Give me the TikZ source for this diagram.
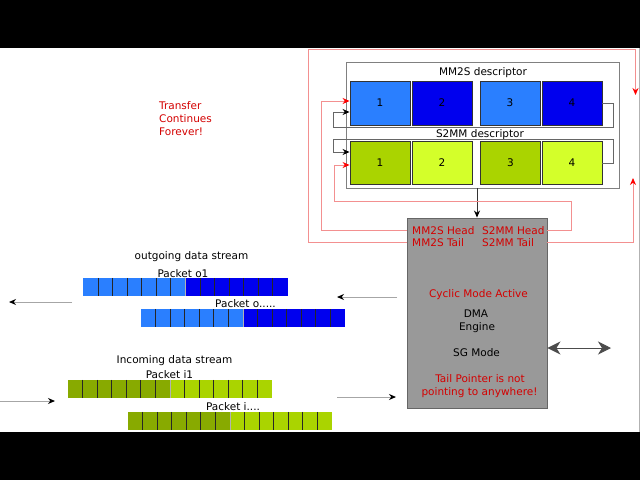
\documentclass[tikz,border=0pt]{standalone}
\usepackage{fontspec}
\setmainfont{DejaVu Sans}
\usetikzlibrary{arrows.meta,calc}
\definecolor{lblue}{HTML}{2A7FFF}
\definecolor{dblue}{HTML}{0000EE}
\definecolor{sgreen}{HTML}{AAD400}
\definecolor{syellow}{HTML}{D4FF2A}
\definecolor{dolive}{HTML}{88AA00}
\definecolor{lolive}{HTML}{AAD400}
\definecolor{txtred}{HTML}{D40000}
\definecolor{redln}{HTML}{F39090}
\definecolor{enginegray}{HTML}{999999}
\begin{document}
\begin{tikzpicture}[x=1pt,y=-1pt,
  every node/.style={font=\fontsize{10.5}{13.3}\selectfont, inner sep=0pt},
  descbox/.style={draw=black!80, line width=0.9pt, minimum width=60pt, minimum height=44pt},
  lbl/.style={anchor=base},
  lblw/.style={anchor=base west},
  redtxt/.style={text=txtred},
  redc/.style={draw=redln, line width=0.9pt, -{Stealth[length=7pt,width=6pt,color=red]}},
  loopc/.style={draw=black!60, line width=0.9pt, -{Stealth[length=7pt,width=6pt,color=black]}},
  grayc/.style={draw=black!35, line width=1pt, -{Stealth[length=7pt,width=6pt,color=black]}},
  bigc/.style={draw=black!70, line width=1pt, {Stealth[length=13pt,width=13pt,inset=4pt]}-{Stealth[length=13pt,width=13pt,inset=4pt]}},
  barnode/.style={minimum width=204pt, minimum height=18pt},
  cellline/.style={draw=black!85, line width=0.6pt},
]
\useasboundingbox (0,0) rectangle (640,480);
\fill[white] (0,0) rectangle (640,480);

% descriptor area
\node[draw=black!50, line width=0.9pt, minimum width=273pt, minimum height=126pt] (desc) at (482.5,125) {};
\node[lbl] (mmlabel) at (483,75) {MM2S descriptor};
\node[lbl] (slabel) at (480,137.5) {S2MM descriptor};
\node[descbox, fill=lblue] (m1) at (380,103) {1};
\node[descbox, fill=dblue] (m2) at (442,103) {2};
\node[descbox, fill=lblue] (m3) at (510,103) {3};
\node[descbox, fill=dblue] (m4) at (572,103) {4};
\node[descbox, fill=sgreen, minimum height=43pt] (s1) at (380,162.5) {1};
\node[descbox, fill=syellow, minimum height=43pt] (s2) at (442,162.5) {2};
\node[descbox, fill=sgreen, minimum height=43pt] (s3) at (510.5,162.5) {3};
\node[descbox, fill=syellow, minimum height=43pt] (s4) at (572,162.5) {4};

% DMA engine
\node[draw=black!60, fill=enginegray, line width=0.9pt, minimum width=140pt, minimum height=190pt] (dma) at (477,313) {};
\node[lblw, redtxt] (mmh) at (412,234) {MM2S Head};
\node[lblw, redtxt] (smh) at (482,234) {S2MM Head};
\node[lblw, redtxt] (mmt) at (412,246.5) {MM2S Tail};
\node[lblw, redtxt] (smt) at (482,246.5) {S2MM Tail};
\node[lbl, redtxt] (cyc) at (478.5,297) {Cyclic Mode Active};
\node[lbl] (dmat) at (476,317.5) {DMA};
\node[lbl] (engt) at (477,330) {Engine};
\node[lbl] (sgt) at (476.5,356.5) {SG Mode};
\node[lbl, redtxt] (tp1) at (480,382.5) {Tail Pointer is not};
\node[lbl, redtxt] (tp2) at (479.5,395) {pointing to anywhere!};

\node[redtxt, anchor=north west, align=left] (forever) at (159,101) {Transfer\\Continues\\Forever!};

% loops
\draw[loopc] (m4.east) -| (613,127) -| (333,112) -- ([yshift=-9pt]m1.west);
\draw[loopc] ([yshift=-0.5pt]s4.east) -| (613,139) -| (333,152) -- ([yshift=10.5pt]s1.west);

% desc to dma
\draw[grayc, draw=black!80] (dma.north |- desc.south) -- (dma.north);

% red pointers
\coordinate (tailA) at (635.5,95);
\coordinate (tailB) at (633,178);
\draw[redc] (dma.west |- mmh) -| (321,101) -- ([yshift=2pt]m1.west);
\draw[redc] (dma.west |- mmt) -| (308,49.5) -| (tailA);
\draw[redc] (dma.east |- smh) -| (571,201.5) -| (334,165) -- ([yshift=-2.5pt]s1.west);
\draw[redc] (dma.east |- smt) -| (tailB);

% double arrow
\coordinate (bus) at (611,348);
\draw[bigc] (dma.east |- bus) -- (bus);

% packets
\node[lbl] (outl) at (191.5,259) {outgoing data stream};
\node[lbl] (po1l) at (183,277) {Packet o1};
\node[lbl] (po2l) at (245.5,307) {Packet o.....};
\node[lbl] (inl) at (174.5,363) {Incoming data stream};
\node[lbl] (pi1l) at (169.5,378) {Packet i1};
\node[lbl] (pi2l) at (233,410) {Packet i....};

\foreach \nm/\x/\y/\ca/\cb in {po1/83.5/278/lblue/dblue, po2/141/309/lblue/dblue, pi1/68/380/dolive/lolive, pi2/128/412/dolive/lolive}{
  \node[barnode, fill=\cb] (\nm) at (\x+102,\y+9) {};
  \fill[\ca] (\nm.north west) rectangle ($(\nm.south west)+(102,0)$);
  \foreach \i in {1,...,6,8,9,...,13}
    \draw[cellline] ($(\nm.north west)+(\i*14.571,0)$) -- ++(0,18);
  \draw[draw=black!30, line width=0.6pt] ($(\nm.north west)+(102,0)$) -- ++(0,18);
}

% stream arrows
\coordinate (oa1) at (72,302); \coordinate (oa2) at (9,302);
\coordinate (ob1) at (397,297); \coordinate (ob2) at (337,297);
\coordinate (ia1) at (0,401); \coordinate (ia2) at (55,401);
\coordinate (ib1) at (337,397); \coordinate (ib2) at (396,397);
\draw[grayc] (oa1) -- (oa2);
\draw[grayc] (ob1) -- (ob2);
\draw[grayc] (ia1) -- (ia2);
\draw[grayc] (ib1) -- (ib2);

% right edge line
\draw[black!30, line width=0.8pt] (639,48) -- (639,432);

% black bars
\fill[black] (0,0) rectangle (640,48);
\fill[black] (0,432) rectangle (640,480);
\end{tikzpicture}
\end{document}
